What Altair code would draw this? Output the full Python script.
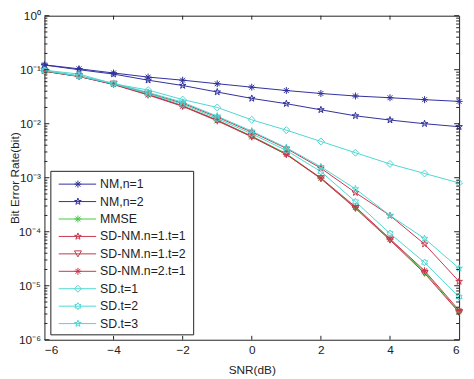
import altair as alt
import pandas as pd

# ---------------- data ----------------
snr = [-6, -5, -4, -3, -2, -1, 0, 1, 2, 3, 4, 5, 6]

nm1 = [0.123, 0.104, 0.087, 0.073, 0.064, 0.055, 0.0475, 0.0412, 0.0363, 0.0326, 0.0303, 0.0279, 0.0259]
nm2 = [0.122, 0.100, 0.083, 0.064, 0.051, 0.0386, 0.0294, 0.0235, 0.0181, 0.0140, 0.0117, 0.0100, 0.0088]
mmse = [0.093, 0.075, 0.054, 0.035, 0.0215, 0.0117, 0.0059, 0.0028, 0.00098, 0.00028, 7.2e-5, 1.8e-5, 3.3e-6]
sdnm11 = [0.095, 0.076, 0.055, 0.037, 0.024, 0.0133, 0.0070, 0.0035, 0.0015, 0.00053, 0.00020, 5.9e-5, 1.2e-5]
sdnm12 = [0.094, 0.075, 0.054, 0.035, 0.0213, 0.0116, 0.0058, 0.0027, 0.00096, 0.00027, 7.0e-5, 1.7e-5, 3.2e-6]
sdnm21 = [0.094, 0.075, 0.053, 0.034, 0.021, 0.0113, 0.0057, 0.0027, 0.00099, 0.00029, 7.4e-5, 1.9e-5, 3.5e-6]
sd1 = [0.098, 0.083, 0.055, 0.042, 0.028, 0.0200, 0.0118, 0.0076, 0.0047, 0.0029, 0.0018, 0.0012, 0.00080]
sd2 = [0.096, 0.076, 0.055, 0.036, 0.023, 0.0125, 0.0065, 0.0032, 0.0013, 0.00036, 9.3e-5, 2.7e-5, 6.2e-6]
sd3 = [0.097, 0.077, 0.056, 0.038, 0.025, 0.0138, 0.0073, 0.0036, 0.0016, 0.00062, 0.00020, 7.5e-5, 2.1e-5]

series_names = ["NM,n=1", "NM,n=2", "MMSE", "SD-NM.n=1.t=1", "SD-NM.n=1.t=2",
                "SD-NM.n=2.t=1", "SD.t=1", "SD.t=2", "SD.t=3"]
series_values = [nm1, nm2, mmse, sdnm11, sdnm12, sdnm21, sd1, sd2, sd3]

x_ticks = [-6, -4, -2, 0, 2, 4, 6]
x_inner_ticks = [-4, -2, 0, 2, 4]
y_decades = [1e-6, 1e-5, 1e-4, 1e-3, 1e-2, 1e-1, 1]
y_minor = [k * 10.0 ** e for e in range(-6, 0) for k in range(2, 10)]

# ---------------- styles ----------------
NAVY = "#2f2f9c"
GREEN = "#44c844"
RED = "#c8344c"
DRED = "#b83c4c"
CYAN = "#4cd6d2"

ASTER = "M-1,0L1,0M0,-1L0,1M-0.7,-0.7L0.7,0.7M-0.7,0.7L0.7,-0.7"
STAR5 = ("M0,-1L0.225,-0.309L0.951,-0.309L0.363,0.118L0.588,0.809L0,0.382"
         "L-0.588,0.809L-0.363,0.118L-0.951,-0.309L-0.225,-0.309Z")
HEX6 = ("M0,-1L0.289,-0.5L0.866,-0.5L0.577,0L0.866,0.5L0.289,0.5L0,1"
        "L-0.289,0.5L-0.866,0.5L-0.577,0L-0.866,-0.5L-0.289,-0.5Z")

series_colors = [NAVY, NAVY, GREEN, RED, DRED, RED, CYAN, CYAN, CYAN]
series_shapes = [ASTER, STAR5, ASTER, STAR5, "triangle-down", ASTER, "diamond", HEX6, STAR5]

rows = []
for name, vals in zip(series_names, series_values):
    for x, v in zip(snr, vals):
        rows.append({"snr": x, "ber": v, "series": name})
df = pd.DataFrame(rows)

W, H = 421, 329
FONT = "Liberation Sans"

xscale = alt.Scale(domain=[-6, 6], nice=False, zero=False)
yscale = alt.Scale(type="log", domain=[1e-6, 1], nice=False)
cscale = alt.Scale(domain=series_names, range=series_colors)
sscale = alt.Scale(domain=series_names, range=series_shapes)

sup = "['⁰','⁻¹','⁻²','⁻³','⁻⁴','⁻⁵','⁻⁶']"
ylabel_expr = "'10' + " + sup + "[-round(log(datum.value)/LN10)]"

x_axis = alt.Axis(values=x_ticks, title="SNR(dB)", grid=False, ticks=False, tickSize=0,
                  domain=False, labelPadding=5, labelFontSize=12, labelFont=FONT,
                  labelColor="#222", titleFont=FONT, titleFontSize=12, titleFontWeight="normal",
                  titleColor="#222", titleY=30, titleBaseline="middle", format="d")
y_axis = alt.Axis(values=y_decades, title="Bit Error Rate(bit)", grid=False, ticks=False,
                  tickSize=0, domain=False, labelPadding=4, labelFontSize=12, labelFont=FONT,
                  labelColor="#222", labelExpr=ylabel_expr, titleFont=FONT, titleFontSize=12,
                  titleFontWeight="normal", titleColor="#222", titleX=-30, titleY=H / 2,
                  titleAngle=-90, titleAlign="center", titleBaseline="middle")

base = alt.Chart(df)
lines = base.mark_line(strokeWidth=1).encode(
    x=alt.X("snr:Q", scale=xscale, axis=x_axis),
    y=alt.Y("ber:Q", scale=yscale, axis=y_axis),
    color=alt.Color("series:N", scale=cscale, legend=None),
    detail="series:N",
)
points = base.mark_point(filled=False, size=50, strokeWidth=1, opacity=1).encode(
    x=alt.X("snr:Q", scale=xscale, axis=x_axis),
    y=alt.Y("ber:Q", scale=yscale, axis=y_axis),
    color=alt.Color("series:N", scale=cscale, legend=None),
    shape=alt.Shape("series:N", scale=sscale, legend=None),
)

def yrules(vals, x0, x1):
    return alt.Chart(pd.DataFrame({"ber": vals})).mark_rule(color="#222", strokeWidth=1).encode(
        y=alt.Y("ber:Q", scale=yscale, axis=y_axis), x=alt.value(x0), x2=alt.value(x1))

def xrules(vals, y0, y1):
    return alt.Chart(pd.DataFrame({"snr": vals})).mark_rule(color="#222", strokeWidth=1).encode(
        x=alt.X("snr:Q", scale=xscale, axis=x_axis), y=alt.value(y0), y2=alt.value(y1))

tick_layers = [
    yrules(y_decades, 0, 5), yrules(y_decades, W - 5, W),
    yrules(y_minor, 0, 3), yrules(y_minor, W - 3, W),
    xrules(x_inner_ticks, H - 4, H), xrules(x_inner_ticks, 0, 4),
]

# ---------------- legend (drawn as marks) ----------------
leg_df = pd.DataFrame({"series": series_names, "idx": list(range(len(series_names)))})
LX0, LX1, LY0, LY1 = 6.5, 151.5, 158, 324
leg_box = alt.Chart(pd.DataFrame({"a": [0]})).mark_rect(
    fill="white", stroke="#222", strokeWidth=1).encode(
    x=alt.value(LX0), x2=alt.value(LX1), y=alt.value(LY0), y2=alt.value(LY1))
leg_y = alt.Y("idx:O", scale=alt.Scale(type="point", range=[171, 312.6], padding=0), axis=None)
leg_base = alt.Chart(leg_df)
leg_lines = leg_base.mark_rule(strokeWidth=1).encode(
    y=leg_y, x=alt.value(14.5), x2=alt.value(52.5),
    color=alt.Color("series:N", scale=cscale, legend=None))
leg_pts = leg_base.mark_point(filled=False, size=50, strokeWidth=1, opacity=1).encode(
    y=leg_y, x=alt.value(34),
    color=alt.Color("series:N", scale=cscale, legend=None),
    shape=alt.Shape("series:N", scale=sscale, legend=None))
leg_text = leg_base.mark_text(align="left", baseline="middle", font=FONT, fontSize=12.5,
                              color="#222").encode(
    y=leg_y, x=alt.value(56.5), text="series:N")

legend = alt.layer(leg_box, leg_lines, leg_pts, leg_text)

main = alt.layer(lines, points, *tick_layers)

chart = alt.layer(main, legend).resolve_scale(y="independent").properties(
    width=W, height=H,
    autosize=alt.AutoSizeParams(type="none"),
    padding={"left": 37, "top": 5, "right": 7, "bottom": 36},
    background="white",
).configure_view(stroke="#222", strokeWidth=1)

chart.save("out.html", embed_options={"renderer": "svg", "actions": False})
